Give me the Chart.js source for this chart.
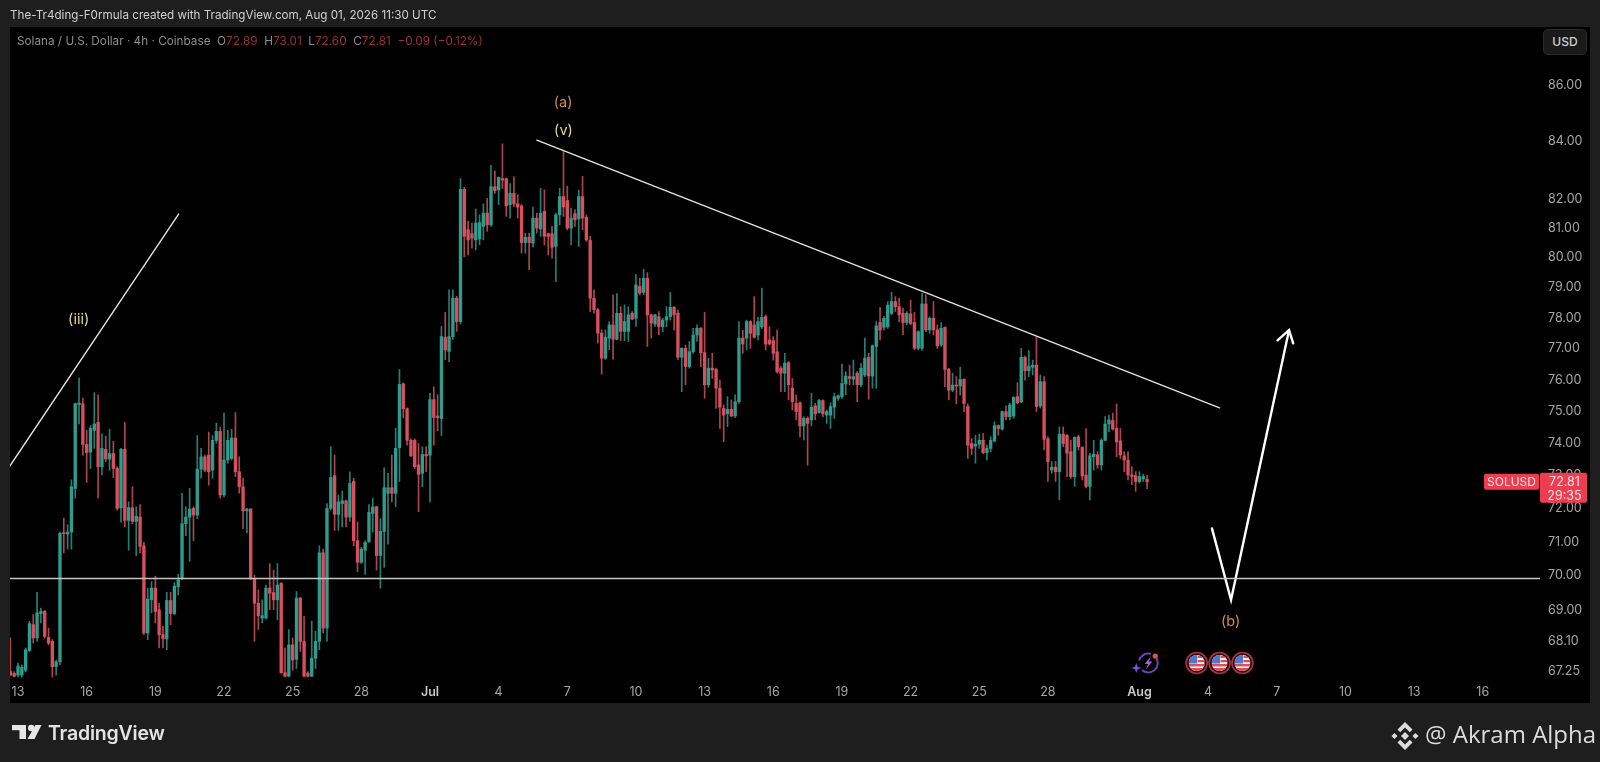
<!DOCTYPE html>
<html>
<head>
<meta charset="utf-8">
<title>Solana / U.S. Dollar</title>
<script src="https://cdn.jsdelivr.net/npm/chart.js@4/dist/chart.umd.min.js"></script>
<style>
html,body{margin:0;padding:0;width:1600px;height:762px;background:#1e1e1e;overflow:hidden;font-family:Inter,Roboto,sans-serif}
canvas{position:absolute;left:0;top:0;filter:blur(.35px)}
.t{position:absolute;white-space:pre}
#credit{left:10px;top:7px;font-size:11.65px;line-height:16px;color:#cfcfcf}
#legend{left:17px;top:34px;font-size:11.75px;line-height:15px;color:#8e8e8e}
#legend b{font-weight:400;color:#9b2f3a}
#tv{left:48px;top:720px;font-size:19.5px;line-height:26px;font-weight:600;color:#e4e4e4;letter-spacing:-.2px}
#author{left:1425px;top:718px;font-size:24px;line-height:32px;font-family:"Open Sans",sans-serif;color:#dcdcdc}
#usd{left:1543px;top:29px;width:44px;height:26px;box-sizing:border-box;line-height:24px;text-align:center;font-size:12px;font-weight:500;color:#cfcfcf;background:#1a1a1a;border:1px solid #2b2b2b;border-radius:5px}
</style>
</head>
<body>
<canvas id="c" width="1600" height="762"></canvas>
<div class="t" id="credit">The-Tr4ding-F0rmula created with TradingView.com, Aug 01, 2026 11:30 UTC</div>
<div class="t" id="legend">Solana / U.S. Dollar · 4h · Coinbase  O<b>72.89</b>  H<b>73.01</b>  L<b>72.60</b>  C<b>72.81</b>  <b>−0.09 (−0.12%)</b></div>
<div class="t" id="usd">USD</div>
<div class="t" id="tv">TradingView</div>
<div class="t" id="author">@ Akram Alpha</div>
<script>
const opens=[
67.23,67.18,67.13,67.13,67.27,67.83,68.57,68.19,68.89,68.95,
68.20,68.09,67.37,67.51,71.26,71.23,71.29,72.61,75.21,75.23,
73.96,73.73,74.40,74.65,73.27,73.81,73.51,73.68,73.22,72.02,
73.81,71.64,72.02,71.61,71.74,70.88,68.33,69.29,69.63,69.00,
68.28,68.16,69.27,68.89,69.67,69.91,71.54,71.74,72.00,71.80,
73.20,73.58,73.63,73.17,74.09,74.37,72.41,73.48,73.53,74.16,
73.12,72.66,71.93,71.98,69.91,69.19,68.76,68.76,69.63,69.50,
69.29,69.77,67.20,67.10,67.99,67.58,69.34,68.09,67.18,67.10,
67.61,68.09,70.67,68.47,72.00,73.00,71.82,72.15,72.23,71.74,
72.82,71.03,70.39,70.75,71.00,71.85,72.05,70.59,71.31,72.46,
72.63,72.46,73.86,75.87,75.08,74.09,74.09,73.33,73.07,73.65,
73.63,75.37,74.85,74.77,77.37,76.91,77.39,78.65,77.88,82.33,
80.95,80.81,80.60,80.63,81.06,81.51,81.11,82.42,82.31,82.70,
82.70,81.80,82.19,81.83,81.76,80.51,80.69,80.49,81.34,80.97,
81.57,80.81,80.81,80.38,81.45,82.08,81.94,81.00,81.49,81.31,
82.08,81.37,80.58,78.65,78.27,77.50,76.69,77.34,77.77,77.30,
78.15,77.56,77.56,78.15,77.99,79.04,78.84,79.31,78.10,77.80,
78.04,77.71,77.93,78.04,78.35,78.15,76.72,77.01,76.42,76.90,
77.44,77.66,76.87,75.84,76.37,76.33,75.73,75.09,74.92,75.06,
74.85,75.30,77.34,77.34,77.88,77.77,77.44,77.71,78.04,77.28,
77.26,76.90,76.37,76.21,76.55,75.73,75.25,75.27,74.54,74.78,
74.73,75.17,74.96,75.34,74.88,74.88,75.13,75.41,75.46,75.87,
76.10,76.02,76.21,75.84,76.15,76.72,76.12,77.07,77.85,77.69,
77.71,78.15,78.54,78.37,78.15,77.85,78.13,77.85,77.01,77.01,
78.46,77.61,77.99,77.61,77.12,77.69,76.33,75.67,75.82,75.80,
76.01,75.15,73.99,73.91,73.97,74.09,73.71,73.84,74.07,74.55,
74.44,74.99,74.83,74.85,75.46,75.30,76.72,76.29,76.40,76.47,
75.17,75.94,74.14,73.17,73.26,73.12,74.28,74.25,73.74,72.97,
74.20,73.87,73.02,72.67,73.58,73.64,73.33,74.09,74.60,74.71,
74.46,74.07,73.61,73.48,73.02,73.00,72.82,72.90,72.89];
const highs=[
68.19,67.23,67.47,67.42,67.90,68.67,68.86,69.51,69.05,68.98,
68.47,68.14,67.56,71.29,71.71,71.51,72.87,75.26,76.05,75.42,
74.40,74.55,75.59,75.52,74.29,74.22,74.43,74.06,73.27,73.84,
74.65,72.20,72.66,72.05,72.12,70.98,69.63,69.82,69.98,69.19,
68.52,69.51,69.51,69.79,70.04,72.46,72.05,72.61,72.05,74.24,
73.84,73.63,74.35,74.24,74.63,74.50,74.94,74.40,74.43,74.96,
73.58,72.92,72.00,72.00,70.01,69.58,69.29,69.72,70.35,70.16,
70.35,69.79,67.90,68.43,68.19,69.53,69.36,68.81,67.23,68.67,
68.38,70.88,70.78,72.15,73.89,73.63,72.41,72.53,72.25,73.12,
72.92,71.59,70.83,71.03,72.12,72.31,72.07,71.69,73.24,73.07,
73.63,74.47,76.33,75.90,75.11,74.14,74.14,73.99,73.89,73.89,
75.57,75.77,75.52,77.72,78.18,78.93,78.93,78.71,82.70,82.40,
81.23,81.17,81.65,81.45,81.83,82.02,83.16,82.97,82.76,83.92,
82.72,82.53,82.76,82.14,81.80,80.83,80.83,81.72,81.51,82.36,
82.31,80.83,81.06,81.51,82.36,83.65,82.44,81.68,81.63,82.31,
82.78,81.45,80.72,78.93,78.32,77.61,77.61,77.88,78.76,78.80,
78.37,78.43,78.37,78.21,79.43,79.31,79.61,79.50,78.12,78.12,
78.21,77.99,78.37,78.84,78.37,78.26,77.03,77.12,77.23,77.66,
77.77,77.69,78.18,76.69,76.85,76.37,75.99,75.20,75.46,75.36,
75.52,77.88,77.60,77.93,77.91,78.70,78.02,78.98,78.10,77.71,
77.39,77.60,76.42,76.85,76.58,76.04,75.52,75.30,74.83,74.83,
75.57,75.25,75.38,75.36,75.04,75.27,75.57,75.52,76.50,76.26,
76.47,76.63,76.26,76.53,77.34,76.85,77.12,77.88,78.35,78.04,
78.53,78.84,78.70,78.65,78.32,78.21,78.59,78.18,77.58,78.81,
78.76,78.04,78.54,77.77,77.85,77.71,76.37,76.21,76.10,76.40,
76.04,75.23,74.14,74.25,74.28,74.30,73.94,74.20,74.67,74.57,
75.01,75.17,75.25,75.46,75.91,77.01,76.76,76.94,76.63,77.39,
76.15,76.10,74.20,73.43,73.43,74.51,74.51,74.27,74.09,74.20,
74.25,73.89,74.46,73.69,74.09,73.74,74.14,74.83,74.88,74.94,
75.23,74.46,73.74,73.74,73.28,73.12,73.12,73.05,73.01];
const lows=[
67.13,67.08,67.08,67.08,67.22,67.80,68.04,68.09,68.62,68.19,
67.99,67.08,67.13,67.42,70.67,70.78,70.78,72.31,74.60,73.63,
72.79,73.22,73.84,72.31,73.02,73.43,73.17,72.94,71.95,71.59,
71.44,70.75,71.54,70.59,70.67,68.28,68.14,68.91,68.62,67.90,
67.90,67.85,68.57,68.85,69.43,69.87,71.18,70.42,71.03,71.69,
72.92,73.12,72.71,72.92,74.00,72.31,72.35,73.38,73.48,72.97,
72.46,71.39,71.26,69.87,68.09,68.43,68.62,68.73,69.00,69.00,
68.71,67.18,67.08,67.08,67.27,67.32,67.80,67.08,67.08,67.08,
67.32,67.85,68.33,68.09,71.95,71.34,71.34,71.44,71.44,71.61,
70.88,70.11,70.35,70.03,70.98,71.29,70.16,69.63,70.24,70.93,
72.20,72.05,72.82,74.80,73.94,73.58,73.22,71.90,72.66,73.12,
72.20,73.94,74.39,74.24,76.64,76.58,77.30,77.56,77.80,80.03,
80.09,80.32,80.26,80.43,80.60,80.89,81.06,82.19,81.80,82.36,
81.40,81.34,81.74,81.34,80.15,80.15,79.60,80.35,80.83,80.72,
80.43,80.09,79.98,79.20,81.11,81.40,80.94,80.43,81.06,80.38,
80.94,80.55,78.21,78.15,77.18,76.18,76.65,76.96,76.66,77.28,
77.26,77.26,77.23,77.94,77.72,78.76,78.76,77.07,77.34,77.72,
77.45,77.55,77.71,77.93,77.60,76.65,75.62,75.84,76.37,76.85,
77.23,76.42,75.41,75.76,76.04,75.09,74.46,74.05,74.52,74.83,
74.81,75.25,76.85,76.96,77.01,77.34,77.28,77.66,76.96,77.12,
76.63,76.21,75.62,75.62,75.36,75.04,74.73,74.20,74.10,73.32,
74.54,74.73,74.94,74.83,74.62,74.46,74.78,75.34,75.41,75.52,
75.84,75.84,75.30,75.78,76.10,75.38,75.73,75.73,77.28,77.60,
77.66,78.10,78.21,77.88,77.45,77.77,77.77,76.96,76.96,76.94,
77.55,77.50,77.45,77.01,77.07,75.78,75.36,75.62,75.23,75.51,
74.99,73.53,73.64,73.38,73.84,73.68,73.48,73.74,74.04,74.25,
74.41,74.73,74.73,74.78,75.23,75.27,75.99,76.10,76.15,74.99,
75.10,73.79,72.82,73.07,72.82,72.26,73.89,72.97,72.92,72.67,
73.79,72.87,72.62,72.26,73.17,73.22,73.17,74.07,74.36,74.41,
73.58,73.53,73.12,72.87,72.72,72.52,72.77,72.82,72.60];
const closes=[
67.13,67.10,67.39,67.35,67.85,68.60,68.19,68.91,68.95,68.23,
68.04,67.37,67.51,71.25,71.24,71.29,72.66,75.24,75.26,73.96,
73.71,74.47,74.60,73.27,73.84,73.51,73.68,73.22,72.00,73.81,
71.64,72.03,71.61,71.76,70.86,68.33,69.31,69.63,68.95,68.28,
68.17,69.27,68.89,69.69,69.87,71.54,71.74,71.98,71.80,73.20,
73.58,73.17,73.12,74.09,74.37,72.41,73.48,74.09,74.16,73.12,
72.66,71.93,71.98,69.91,69.19,68.83,68.83,69.63,69.48,69.29,
69.72,67.20,67.10,67.99,67.56,69.34,68.09,67.10,67.10,67.61,
68.09,70.67,68.47,72.00,72.94,71.82,72.20,72.23,71.74,72.76,
71.03,70.39,70.78,70.98,71.88,72.05,70.59,71.31,72.63,72.63,
72.46,73.84,75.85,75.08,74.09,73.61,73.27,73.04,73.65,73.61,
75.37,74.80,74.80,77.39,76.96,77.39,78.65,77.88,82.33,80.72,
80.60,80.66,81.17,81.19,81.51,81.11,82.42,82.28,82.74,82.65,
81.76,82.19,81.83,81.72,80.51,80.69,80.51,81.34,81.00,81.51,
80.72,80.72,80.35,81.45,82.08,81.72,81.00,81.34,81.28,82.08,
81.34,80.60,78.65,78.27,77.50,76.69,77.37,77.77,77.30,78.15,
77.56,77.88,78.10,77.96,79.09,78.82,79.31,78.10,77.83,78.10,
77.72,77.93,78.04,78.35,78.10,76.72,77.01,76.42,76.90,77.44,
77.66,76.87,75.84,76.37,76.31,75.73,75.13,74.88,75.06,74.85,
75.30,77.34,77.15,77.88,77.50,77.37,77.88,78.02,77.15,77.15,
76.85,76.26,76.21,76.53,75.84,75.30,74.99,74.54,74.78,74.62,
75.13,74.92,75.34,74.92,74.99,75.15,75.46,75.49,75.88,76.12,
76.04,76.10,75.84,76.37,76.69,76.12,77.09,77.74,77.60,77.99,
78.42,78.54,78.37,78.10,77.85,78.15,77.82,77.01,77.55,78.46,
77.61,77.99,77.61,77.09,77.66,76.33,75.67,75.83,75.80,76.01,
75.25,73.94,73.84,73.97,74.09,73.71,73.84,74.09,74.55,74.46,
74.99,74.83,75.20,75.44,75.27,76.72,76.29,76.44,76.46,75.15,
75.94,74.12,73.43,73.26,73.12,74.28,73.99,73.69,72.97,74.18,
73.89,72.99,72.67,73.61,73.66,73.33,74.09,74.60,74.73,74.44,
74.04,73.64,73.48,73.02,72.97,72.82,72.97,72.97,72.81];

// x axis: candle number (4h bars) and the date labels shown on it
const tickIndexes=[2,20,38,56,74,92,110,128,146,164,182,200,218,236,254,272,296,314,332,350,368,386];
const tickLabels=['13','16','19','22','25','28','Jul','4','7','10','13','16','19','22','25','28','Aug','4','7','10','13','16'];
const priceTicks=[86,84,82,81,80,79,78,77,76,75,74,73,72,71,70,69,68.10,67.25];

// drawings on the chart, [candle number, price]
const trendLine=[[138,84.05],[317,75.11]];
const waveLine=[[-0.1,73.3],[44.1,81.48]];
const supportLine=[[-0.1,69.91],[401,69.91]];
const projection=[[315,71.40],[320,69.29],[335.2,77.60]];
const arrowHead=[[332.2,77.27],[335.2,77.60],[336.3,77.17]];
const waveNames=['(a)','(v)','(iii)','(b)'];
const waveSpots=[[144.9,85.37],[145,84.38],[17.9,77.93],[319.9,68.66]];
const waveColors=['#cf8a4e','#e6d49a','#e6d49a','#cf8a4e'];
const eventFlags=[311,317,323];
const eventBolt=298.3;
const lastClose=72.81;

const UP='#2f9c8d',DOWN='#d84f5f',UPW='#277f74',DOWNW='#ac4552';
const isUp=i=>closes[i]>=opens[i];
const pts=a=>a.map(p=>({x:p[0],y:p[1]}));
const lineSet=(a,color,w)=>({type:'line',data:pts(a),borderColor:color,borderWidth:w,pointRadius:0,tension:0,order:1,borderCapStyle:'round',borderJoinStyle:'miter'});

function flag(ctx,x,y){
  ctx.save();
  ctx.beginPath();ctx.arc(x,y,10.5,0,7);ctx.fillStyle='#2a0f14';ctx.fill();
  ctx.lineWidth=1.6;ctx.strokeStyle='#a8323f';ctx.stroke();
  ctx.beginPath();ctx.arc(x,y,8,0,7);ctx.clip();
  ctx.fillStyle='#f0eeee';ctx.fillRect(x-8,y-8,16,16);
  ctx.fillStyle='#d8505c';ctx.fillRect(x-8,y+1,16,2.4);ctx.fillRect(x-8,y+5,16,3);ctx.fillRect(x+1,y-3,7,2.2);ctx.fillRect(x+1,y-7,7,2);
  ctx.fillStyle='#4f78c8';ctx.fillRect(x-8,y-8,8.5,8.5);
  ctx.restore();
}
function bolt(ctx,x,y){
  ctx.save();
  ctx.strokeStyle='#6b45b0';ctx.lineWidth=2;
  ctx.beginPath();ctx.arc(x,y,9.5,-0.7,2.3);ctx.stroke();
  ctx.beginPath();ctx.arc(x,y,9.5,3.4,5.0);ctx.stroke();
  ctx.fillStyle='#b45fd8';
  ctx.beginPath();ctx.moveTo(x+3,y-7);ctx.lineTo(x-3.5,y+1);ctx.lineTo(x,y+1);ctx.lineTo(x-2.5,y+6.5);ctx.lineTo(x+4,y-1.5);ctx.lineTo(x+.5,y-1.5);ctx.closePath();ctx.fill();
  ctx.fillStyle='#7d55e0';
  const sx=x-12,sy=y+5;
  ctx.beginPath();ctx.moveTo(sx,sy-5);ctx.lineTo(sx+1.3,sy-1.3);ctx.lineTo(sx+5,sy);ctx.lineTo(sx+1.3,sy+1.3);ctx.lineTo(sx,sy+5);ctx.lineTo(sx-1.3,sy+1.3);ctx.lineTo(sx-5,sy);ctx.lineTo(sx-1.3,sy-1.3);ctx.closePath();ctx.fill();
  ctx.fillStyle='#e0505a';ctx.beginPath();ctx.arc(x+7,y-7,2.6,0,7);ctx.fill();
  ctx.restore();
}
function poly(ctx,p){ctx.beginPath();p.forEach((q,i)=>i?ctx.lineTo(q[0],q[1]):ctx.moveTo(q[0],q[1]));ctx.closePath();ctx.fill();}
function logos(ctx){
  ctx.save();
  ctx.fillStyle='#e6e6e6';
  ctx.fillRect(12,725,14,5.2);ctx.fillRect(19.5,725,6.5,14);
  ctx.beginPath();ctx.arc(31.2,728,3.2,0,7);ctx.fill();
  poly(ctx,[[35.5,725],[41.5,725],[34.5,739],[27.5,739]]);
  ctx.fillStyle='#dcdcdc';
  const x=1405,y=736;
  poly(ctx,[[x,y-4],[x+4,y],[x,y+4],[x-4,y]]);
  poly(ctx,[[x-13.5,y],[x-10.5,y-3],[x-7.5,y],[x-10.5,y+3]]);
  poly(ctx,[[x+13.5,y],[x+10.5,y-3],[x+7.5,y],[x+10.5,y+3]]);
  poly(ctx,[[x,y-14],[x+7.5,y-6.5],[x+4.8,y-3.8],[x,y-8.6],[x-4.8,y-3.8],[x-7.5,y-6.5]]);
  poly(ctx,[[x,y+14],[x+7.5,y+6.5],[x+4.8,y+3.8],[x,y+8.6],[x-4.8,y+3.8],[x-7.5,y+6.5]]);
  ctx.restore();
}
const chrome={
  id:'chrome',
  beforeDraw(c){
    const g=c.ctx;
    g.save();g.fillStyle='#000';g.fillRect(10,27,1580,676);g.restore();
  },
  afterDraw(c){
    const g=c.ctx,xs=c.scales.x,ys=c.scales.y,a=c.chartArea;
    g.save();
    g.textAlign='center';g.textBaseline='middle';
    g.font='14.5px Inter, Roboto, sans-serif';
    waveNames.forEach((n,i)=>{
      g.fillStyle=waveColors[i];
      g.fillText(n,xs.getPixelForValue(waveSpots[i][0]),ys.getPixelForValue(waveSpots[i][1]));
    });
    eventFlags.forEach(v=>flag(g,xs.getPixelForValue(v),a.bottom-15));
    bolt(g,xs.getPixelForValue(eventBolt),a.bottom-15);
    const y=ys.getPixelForValue(lastClose);
    g.fillStyle='#ee3d50';
    g.beginPath();g.roundRect(1484,y-8,55,16,2);g.fill();
    g.beginPath();g.roundRect(1540,y-9,47,30,2);g.fill();
    g.fillStyle='#f4e4e6';
    g.font='12px Inter, Roboto, sans-serif';
    g.fillText('SOLUSD',1511.5,y+.5);
    g.font='12.5px Inter, Roboto, sans-serif';
    g.fillText('72.81',1564.5,y+.5);
    g.fillText('29:35',1564.5,y+14.5);
    g.restore();
    logos(g);
  }
};
new Chart(document.getElementById('c'),{
  data:{datasets:[
    {type:'bar',grouped:false,order:3,barThickness:1,
     data:lows.map((l,i)=>({x:i,y:[l,highs[i]]})),
     backgroundColor:opens.map((o,i)=>isUp(i)?UPW:DOWNW)},
    {type:'bar',grouped:false,order:2,barThickness:2.7,minBarLength:1,
     data:opens.map((o,i)=>({x:i,y:[o,closes[i]]})),
     backgroundColor:opens.map((o,i)=>isUp(i)?UP:DOWN)},
    lineSet(trendLine,'#e2e2e2',1.4),
    lineSet(waveLine,'#e2e2e2',1.4),
    lineSet(supportLine,'#c4c4c4',1.5),
    lineSet(projection,'#ffffff',2.4),
    lineSet(arrowHead,'#ffffff',2.4)
  ]},
  options:{
    responsive:false,devicePixelRatio:1,animation:false,
    layout:{padding:{left:10,right:10,top:27,bottom:59}},
    plugins:{legend:{display:false},tooltip:{enabled:false}},
    scales:{
      x:{type:'linear',min:-0.1,max:401,offset:false,
        grid:{display:false,drawTicks:false},border:{display:false},
        afterBuildTicks(s){s.ticks=tickIndexes.map(v=>({value:v}));},
        afterFit(s){s.height=25;},
        ticks:{autoSkip:false,maxRotation:0,padding:7,
          color:c=>(c.tick&&(c.tick.value===110||c.tick.value===296))?'#c9c9c9':'#a6a6a6',
          font:c=>({family:'Inter, Roboto, sans-serif',size:12.5,weight:(c.tick&&(c.tick.value===110||c.tick.value===296))?'600':'400'}),
          callback:v=>tickLabels[tickIndexes.indexOf(v)]}
      },
      y:{type:'logarithmic',position:'right',min:67.05,max:88.14,
        grid:{display:false,drawTicks:false},border:{display:false},
        afterBuildTicks(s){s.ticks=priceTicks.map(v=>({value:v}));},
        afterFit(s){s.width=50;},
        ticks:{autoSkip:false,padding:8,color:'#a6a6a6',
          font:{family:'Inter, Roboto, sans-serif',size:12.5},
          callback:v=>Number(v).toFixed(2)}
      }
    }
  },
  plugins:[chrome]
});
</script>
</body>
</html>
